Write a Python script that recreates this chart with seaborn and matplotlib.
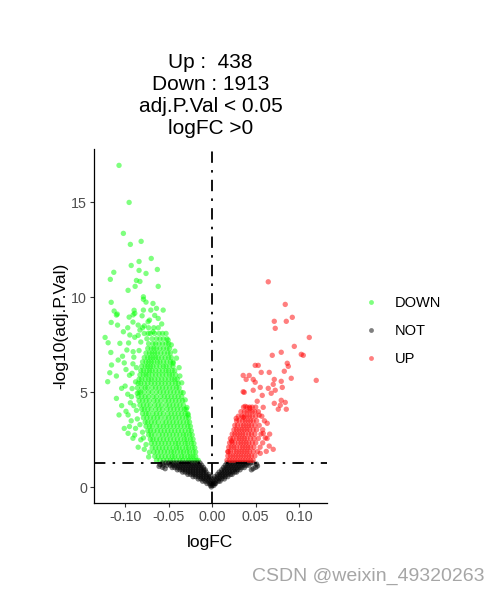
import matplotlib
matplotlib.use("Agg")
import matplotlib.pyplot as plt
import seaborn as sns
import pandas as pd

# ---- data ----
n_up = 438
n_down = 1913
p_cut = 0.05

# DOWN: dense wedge, one row per -log10(p) level
down_rows = [
    (1.42, [-0.064, -0.060, -0.056, -0.052, -0.048, -0.045, -0.041, -0.037, -0.034, -0.030, -0.027, -0.024, -0.021, -0.018, -0.016]),
    (1.63, [-0.066, -0.062, -0.058, -0.054, -0.050, -0.046, -0.043, -0.039, -0.035, -0.032, -0.028, -0.025, -0.022, -0.019]),
    (1.86, [-0.067, -0.063, -0.059, -0.055, -0.051, -0.047, -0.044, -0.040, -0.036, -0.033, -0.029, -0.026, -0.022, -0.019]),
    (2.08, [-0.069, -0.065, -0.061, -0.057, -0.053, -0.049, -0.045, -0.041, -0.038, -0.034, -0.030, -0.027, -0.023, -0.020]),
    (2.31, [-0.070, -0.066, -0.062, -0.058, -0.054, -0.050, -0.046, -0.042, -0.039, -0.035, -0.031, -0.028, -0.024, -0.021]),
    (2.53, [-0.071, -0.068, -0.064, -0.060, -0.056, -0.052, -0.048, -0.044, -0.040, -0.036, -0.032, -0.029, -0.025, -0.022]),
    (2.76, [-0.073, -0.070, -0.066, -0.061, -0.057, -0.053, -0.049, -0.045, -0.041, -0.037, -0.033, -0.030, -0.026, -0.023]),
    (2.98, [-0.074, -0.071, -0.067, -0.063, -0.059, -0.055, -0.051, -0.047, -0.043, -0.039, -0.035, -0.031, -0.027, -0.024]),
    (3.21, [-0.076, -0.072, -0.069, -0.064, -0.060, -0.056, -0.052, -0.048, -0.044, -0.040, -0.036, -0.032, -0.028, -0.025]),
    (3.43, [-0.077, -0.074, -0.070, -0.066, -0.062, -0.057, -0.053, -0.049, -0.045, -0.041, -0.037, -0.033, -0.029, -0.026]),
    (3.66, [-0.079, -0.075, -0.071, -0.067, -0.063, -0.059, -0.054, -0.050, -0.046, -0.042, -0.038, -0.034, -0.030, -0.027]),
    (3.88, [-0.080, -0.076, -0.073, -0.068, -0.064, -0.060, -0.056, -0.051, -0.047, -0.043, -0.039, -0.035, -0.031, -0.028]),
    (4.11, [-0.081, -0.078, -0.074, -0.070, -0.065, -0.061, -0.057, -0.052, -0.048, -0.044, -0.040, -0.036, -0.032, -0.030]),
    (4.33, [-0.083, -0.079, -0.075, -0.071, -0.066, -0.062, -0.058, -0.053, -0.049, -0.045, -0.041, -0.037, -0.033]),
    (4.56, [-0.084, -0.080, -0.076, -0.072, -0.067, -0.063, -0.059, -0.054, -0.050, -0.046, -0.042, -0.038, -0.034]),
    (4.78, [-0.085, -0.081, -0.077, -0.073, -0.068, -0.064, -0.059, -0.055, -0.051, -0.047, -0.043, -0.039, -0.035]),
    (5.01, [-0.084, -0.082, -0.078, -0.073, -0.069, -0.064, -0.060, -0.056, -0.052, -0.048, -0.044, -0.040, -0.036]),
    (5.24, [-0.086, -0.081, -0.077, -0.074, -0.069, -0.065, -0.061, -0.057, -0.053, -0.049, -0.045, -0.041, -0.038]),
    (5.47, [-0.085, -0.082, -0.078, -0.074, -0.070, -0.066, -0.062, -0.058, -0.054, -0.050, -0.046, -0.042, -0.039]),
    (5.69, [-0.084, -0.081, -0.077, -0.073, -0.070, -0.066, -0.062, -0.058, -0.054, -0.050, -0.046, -0.043, -0.040]),
    (5.92, [-0.083, -0.079, -0.076, -0.073, -0.069, -0.065, -0.061, -0.057, -0.053, -0.049, -0.046, -0.042]),
    (6.14, [-0.082, -0.079, -0.075, -0.072, -0.069, -0.065, -0.061, -0.057, -0.053, -0.050, -0.046, -0.043]),
    (6.37, [-0.081, -0.077, -0.074, -0.071, -0.068, -0.064, -0.060, -0.056, -0.053, -0.049, -0.045]),
    (6.60, [-0.080, -0.076, -0.073, -0.070, -0.067, -0.063, -0.060, -0.056, -0.052, -0.048, -0.045]),
    (6.83, [-0.078, -0.074, -0.071, -0.068, -0.065, -0.062, -0.058, -0.054, -0.050, -0.047]),
    (7.07, [-0.076, -0.072, -0.069, -0.066, -0.063, -0.059, -0.055, -0.051, -0.048]),
    (7.31, [-0.074, -0.070, -0.067, -0.064, -0.060, -0.056, -0.052, -0.049]),
    (7.56, [-0.073, -0.068, -0.065, -0.061, -0.057, -0.053, -0.050]),
    (7.82, [-0.075, -0.069, -0.064, -0.060, -0.056, -0.052]),
    (8.10, [-0.078, -0.071, -0.066, -0.061, -0.057]),
    (8.40, [-0.080, -0.073, -0.067, -0.062]),
]

# DOWN: scattered points outside the dense wedge
down_extra = [
    (-0.107, 16.95), (-0.0954, 15.0), (-0.102, 13.37), (-0.094, 12.79), (-0.0816, 12.95),
    (-0.070, 12.05), (-0.084, 11.89), (-0.093, 11.68), (-0.063, 11.47), (-0.084, 11.42),
    (-0.113, 11.32), (-0.076, 11.26), (-0.117, 10.95), (-0.087, 10.89), (-0.083, 10.84),
    (-0.0885, 10.58), (-0.062, 10.58), (-0.0966, 10.37), (-0.079, 10.03), (-0.079, 9.9),
    (-0.116, 9.74), (-0.068, 9.68), (-0.1126, 9.28), (-0.109, 9.12), (-0.116, 8.68),
    (-0.1087, 8.54), (-0.0897, 9.32), (-0.0954, 8.96), (-0.0908, 9.08), (-0.0805, 9.03),
    (-0.0705, 9.33), (-0.064, 9.42), (-0.0563, 9.33), (-0.062, 8.89), (-0.068, 8.19),
    (-0.0736, 8.10), (-0.083, 8.28), (-0.102, 8.19), (-0.0946, 8.02), (-0.123, 7.89),
    (-0.0506, 7.75), (-0.110, 9.07), (-0.1195, 7.61), (-0.1164, 7.10), (-0.108, 6.70),
    (-0.1156, 6.44), (-0.1176, 6.03), (-0.120, 5.56), (-0.110, 5.86), (-0.104, 5.21),
    (-0.110, 4.68), (-0.107, 3.81), (-0.0966, 3.81), (-0.101, 3.10), (-0.091, 2.58),
    (-0.085, 2.11), (-0.0966, 2.84), (-0.0927, 4.77), (-0.100, 5.33), (-0.0889, 9.16),
    (-0.079, 9.33), (-0.0736, 8.72), (-0.085, 8.54), (-0.106, 7.58), (-0.098, 7.23),
    (-0.0908, 7.14), (-0.0429, 7.17), (-0.0448, 6.53), (-0.0371, 5.86), (-0.0333, 4.98),
    (-0.0276, 3.81), (-0.103, 6.90), (-0.099, 6.20), (-0.095, 5.90), (-0.104, 4.30),
    (-0.093, 3.50), (-0.099, 4.00), (-0.091, 6.50), (-0.096, 7.60), (-0.089, 7.90),
    (-0.092, 5.20), (-0.097, 4.90), (-0.088, 3.10), (-0.082, 2.50), (-0.078, 2.00),
    (-0.073, 1.60), (-0.092, 6.00), (-0.090, 4.30), (-0.086, 3.60), (-0.080, 2.90),
    (-0.088, 5.55), (-0.090, 6.85), (-0.087, 6.30), (-0.086, 4.95), (-0.087, 4.05),
    (-0.083, 3.30), (-0.079, 2.60), (-0.076, 2.25), (-0.072, 1.85), (-0.084, 7.20),
    (-0.082, 7.65), (-0.085, 8.00), (-0.078, 8.50), (-0.072, 8.80), (-0.058, 8.60),
    (-0.053, 8.10), (-0.047, 7.50), (-0.041, 6.80), (-0.038, 6.30), (-0.035, 5.50),
    (-0.031, 4.60), (-0.029, 4.20), (-0.094, 4.45), (-0.095, 3.20), (-0.089, 2.75),
    (-0.101, 6.55), (-0.097, 8.40), (-0.091, 8.70), (-0.076, 9.75), (-0.066, 9.05),
]

# UP: dense part
up_rows = [
    (1.42, [0.017, 0.020, 0.023, 0.026, 0.029, 0.032, 0.035, 0.038, 0.041, 0.044, 0.047]),
    (1.65, [0.018, 0.021, 0.024, 0.027, 0.030, 0.033, 0.036, 0.039, 0.042, 0.045, 0.049]),
    (1.88, [0.018, 0.021, 0.025, 0.028, 0.031, 0.034, 0.037, 0.040, 0.043, 0.047, 0.052]),
    (2.11, [0.019, 0.022, 0.025, 0.028, 0.032, 0.035, 0.038, 0.041, 0.044, 0.048, 0.055]),
    (2.34, [0.020, 0.023, 0.026, 0.030, 0.033, 0.036, 0.039, 0.042, 0.046, 0.050, 0.058]),
    (2.57, [0.021, 0.024, 0.028, 0.031, 0.034, 0.037, 0.040, 0.044, 0.048, 0.053, 0.063]),
    (2.80, [0.023, 0.026, 0.029, 0.032, 0.035, 0.038, 0.042, 0.045, 0.049, 0.056, 0.066]),
    (3.03, [0.025, 0.028, 0.031, 0.034, 0.037, 0.040, 0.043, 0.047, 0.051, 0.058]),
    (3.26, [0.026, 0.029, 0.033, 0.036, 0.039, 0.042, 0.045, 0.049, 0.054]),
    (3.50, [0.028, 0.031, 0.035, 0.038, 0.041, 0.044, 0.047, 0.051, 0.060]),
    (3.74, [0.030, 0.034, 0.037, 0.040, 0.043, 0.046, 0.050, 0.057]),
    (3.98, [0.033, 0.037, 0.040, 0.043, 0.046, 0.049, 0.053]),
    (4.22, [0.036, 0.040, 0.043, 0.046, 0.050]),
]

up_extra = [
    (0.0644, 10.82), (0.0839, 9.63), (0.0713, 8.74), (0.0851, 8.74), (0.092, 8.95),
    (0.0724, 8.37), (0.1115, 7.89), (0.0943, 7.42), (0.0793, 7.11), (0.069, 6.95),
    (0.1023, 7.00), (0.1046, 6.95), (0.0862, 6.53), (0.0874, 6.37), (0.0828, 6.11),
    (0.0494, 6.42), (0.0529, 6.42), (0.0655, 6.05), (0.0563, 6.05), (0.0356, 5.89),
    (0.0425, 5.89), (0.0908, 5.74), (0.1195, 5.63), (0.039, 5.68), (0.0713, 5.68),
    (0.0471, 5.68), (0.0793, 5.58), (0.0494, 5.53), (0.0701, 5.42), (0.0805, 5.26),
    (0.0552, 5.26), (0.0644, 5.21), (0.0724, 5.11), (0.0471, 5.11), (0.0368, 5.00),
    (0.0678, 4.95), (0.0575, 4.84), (0.0793, 4.58), (0.0517, 4.53), (0.0713, 4.42),
    (0.0839, 4.47), (0.0782, 4.32), (0.0759, 4.11), (0.0851, 4.11), (0.0379, 4.26),
    (0.0586, 4.21), (0.0276, 3.63), (0.0701, 2.00), (0.0621, 1.89), (0.0552, 1.79),
    (0.0655, 2.17), (0.0586, 2.84), (0.0632, 3.37), (0.0223, 2.44), (0.0184, 1.87),
    (0.0356, 5.03), (0.0356, 3.68), (0.0433, 4.16), (0.0540, 3.80), (0.0610, 2.60),
]

# NOT significant: two lobes below the cut-off
not_rows = [
    (1.28, [-0.057, -0.053, -0.050, -0.047, -0.044, -0.041, -0.038, -0.035, -0.032, -0.029, -0.026, -0.023, -0.020, -0.017, -0.014,
            0.017, 0.020, 0.023, 0.026, 0.029, 0.032, 0.035, 0.038, 0.041, 0.044, 0.047]),
    (1.16, [-0.052, -0.048, -0.045, -0.042, -0.039, -0.036, -0.033, -0.030, -0.027, -0.024, -0.021, -0.018, -0.015, -0.012,
            0.015, 0.018, 0.021, 0.024, 0.027, 0.030, 0.033, 0.036, 0.039, 0.042]),
    (1.04, [-0.046, -0.043, -0.040, -0.037, -0.034, -0.031, -0.028, -0.025, -0.022, -0.019, -0.016, -0.013, -0.010,
            0.013, 0.016, 0.019, 0.022, 0.025, 0.028, 0.031, 0.034, 0.037]),
    (0.92, [-0.040, -0.037, -0.034, -0.031, -0.028, -0.025, -0.022, -0.019, -0.016, -0.013, -0.010, -0.008,
            0.011, 0.014, 0.017, 0.020, 0.023, 0.026, 0.029, 0.032]),
    (0.80, [-0.034, -0.031, -0.028, -0.025, -0.022, -0.019, -0.016, -0.013, -0.010, -0.007,
            0.008, 0.011, 0.014, 0.017, 0.020, 0.023, 0.026, 0.028]),
    (0.68, [-0.028, -0.025, -0.022, -0.019, -0.016, -0.013, -0.010, -0.007, -0.004,
            0.006, 0.009, 0.012, 0.015, 0.018, 0.021, 0.023]),
    (0.56, [-0.022, -0.019, -0.016, -0.013, -0.010, -0.007, -0.004, -0.002,
            0.003, 0.006, 0.009, 0.012, 0.015, 0.018]),
    (0.44, [-0.016, -0.013, -0.010, -0.007, -0.004, -0.001, 0.002, 0.005, 0.008, 0.011, 0.014]),
    (0.32, [-0.011, -0.008, -0.005, -0.002, 0.001, 0.004, 0.007, 0.009]),
    (0.20, [-0.006, -0.003, -0.001, 0.001, 0.003, 0.004]),
    (0.10, [-0.002, 0.000, 0.002]),
]

not_extra = [
    (-0.060, 1.20), (-0.061, 1.10), (-0.057, 1.05), (-0.054, 0.98), (-0.0563, 1.17),
    (0.051, 1.22), (0.052, 1.12), (0.050, 1.05), (0.047, 0.98), (0.045, 0.92), (-0.001, 0.02),
]


def flatten(rows, extra, label):
    recs = [(x, y, label) for y, xs in rows for x in xs]
    recs += [(x, y, label) for x, y in extra]
    return recs


records = flatten(down_rows, down_extra, "DOWN") + \
    flatten(not_rows, not_extra, "NOT") + \
    flatten(up_rows, up_extra, "UP")
df = pd.DataFrame(records, columns=["logFC", "lp", "change"])

# ---- plot ----
sns.set_style("white")
plt.rcParams["font.family"] = ["Liberation Sans", "DejaVu Sans"]

fig = plt.figure(figsize=(4.98, 5.97), dpi=100)
ax = fig.add_axes([0.189, 0.158, 0.467, 0.592])

palette = {"DOWN": "#00FF00", "NOT": "#000000", "UP": "#FF0000"}
sns.scatterplot(data=df, x="logFC", y="lp", hue="change", hue_order=["DOWN", "NOT", "UP"],
                palette=palette, alpha=0.5, s=15, linewidth=0, ax=ax)

dash = (0, (6.3, 4.0, 1.4, 4.0))
ax.axvline(0, color="black", lw=1.3, linestyle=dash, zorder=5)
ax.axhline(1.301, color="black", lw=1.3, linestyle=dash, zorder=5)

ax.set_xlim(-0.1356, 0.1315)
ax.set_ylim(-0.81, 17.8)
ax.set_xticks([-0.10, -0.05, 0.00, 0.05, 0.10])
ax.set_xticklabels(["-0.10", "-0.05", "0.00", "0.05", "0.10"])
ax.set_yticks([0, 5, 10, 15])

for s in ["top", "right"]:
    ax.spines[s].set_visible(False)
for s in ["left", "bottom"]:
    ax.spines[s].set_color("black")
    ax.spines[s].set_linewidth(0.9)
ax.tick_params(axis="both", which="major", direction="out", length=3, width=0.8, pad=2,
               color="#333333", labelcolor="#4D4D4D", labelsize=10.3, left=True, bottom=True)

ax.set_xlabel("logFC", fontsize=12.5, color="black", labelpad=8)
ax.set_ylabel("-log10(adj.P.Val)", fontsize=12.5, color="black", labelpad=2)

title = f"Up :  {n_up}\nDown : {n_down}\nadj.P.Val < {p_cut}\nlogFC >0"
ax.set_title(title, fontsize=15, linespacing=1.2, pad=11, color="black")

leg = ax.legend(loc="center left", bbox_to_anchor=(1.072, 0.485), frameon=False,
                fontsize=10.5, labelspacing=0.95, handletextpad=0.6, markerscale=0.9)
for h in leg.legend_handles:
    h.set_alpha(0.5)
for t in leg.get_texts():
    t.set_color("black")

fig.text(0.972, 0.02, "CSDN @weixin_49320263", ha="right", va="bottom",
         fontsize=14, color="#A6A6A6")

fig.savefig("out.png", dpi=100)
